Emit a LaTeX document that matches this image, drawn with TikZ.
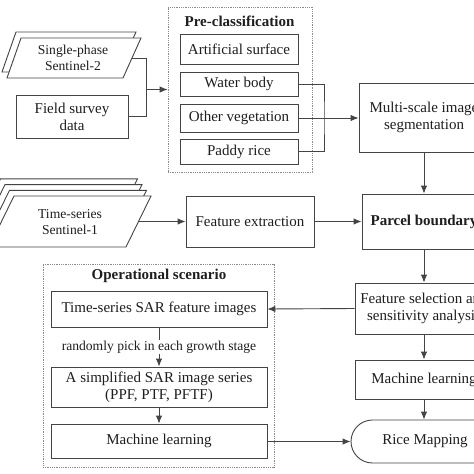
\documentclass[tikz,border=0pt]{standalone}
\usepackage{fontspec}
\setmainfont{Liberation Serif}
\usetikzlibrary{arrows.meta}
\definecolor{linec}{HTML}{444444}
\definecolor{textc}{HTML}{1E1E1E}
\definecolor{framec}{HTML}{8A8A8A}
\begin{document}
\begin{tikzpicture}[x=1pt,y=-1pt,
  txt/.style={font=\fontsize{15}{17}\selectfont, text=textc, align=center, inner sep=0pt},
  ptxt/.style={font=\fontsize{13.6}{16.5}\selectfont, text=textc, align=center, inner sep=0pt},
  boxn/.style={txt, draw=linec, line width=0.9pt, fill=white},
  frame/.style={draw=framec, line width=0.8pt, densely dotted, inner sep=0pt},
  para/.style={draw=linec, line width=0.9pt, fill=white},
  arr/.style={draw=linec, line width=0.9pt, -{Latex[length=8pt,width=6.5pt]}},
  con/.style={draw=linec, line width=0.9pt},
  small/.style={font=\fontsize{13.6}{16}\selectfont, text=textc, fill=white, inner sep=1pt}]
\useasboundingbox (0,0) rectangle (474,474);
\clip (0,0) rectangle (474,474);

% Single-phase Sentinel-2 (stacked parallelograms)
\draw[para] (16,32) -- (136,32) -- (118,72) -- (2,72) -- cycle;
\draw[para] (21,38) -- (141,38) -- (123,78) -- (7,78) -- cycle;
\node[ptxt] (s2) at (73,58) {Single-phase\\Sentinel-2};
\coordinate (s2e) at (132,58);

% Field survey data
\node[boxn, minimum width=112, minimum height=43] (field) at (72,116.5) {Field survey\\data};

% Pre-classification frame
\node[frame, minimum width=144, minimum height=165] (pre) at (240,89.5) {};
\node[txt, font=\fontsize{15}{17}\selectfont\bfseries] (pretitle) at (239.5,21) {Pre-classification};
\node[boxn, minimum width=118, minimum height=30] (art) at (239,49) {Artificial surface};
\node[boxn, minimum width=118, minimum height=24] (water) at (239,84) {Water body};
\node[boxn, minimum width=118, minimum height=28] (veg) at (239,118) {Other vegetation};
\node[boxn, minimum width=118, minimum height=25] (paddy) at (239,151.5) {Paddy rice};

% Multi-scale segmentation
\node[boxn, minimum width=130, minimum height=69] (multi) at (424,117.5) {Multi-scale image\\segmentation};

% Time-series Sentinel-1 (stacked parallelograms)
\foreach \k in {3,2,1} {
  \draw[para, shift={(-4.5*\k,-5.7*\k)}] (14,196) -- (151,196) -- (126,247) -- (-11,247) -- cycle;
}
\draw[para] (14,196) -- (151,196) -- (126,247) -- (-11,247) -- cycle;
\node[ptxt] (s1) at (70,222) {Time-series\\Sentinel-1};
\coordinate (s1e) at (138.5,221.5);

% Feature extraction, parcel boundary
\node[boxn, minimum width=128, minimum height=51] (fe) at (250,221.5) {Feature extraction};
\node[boxn, minimum width=124, minimum height=55, font=\fontsize{15}{17}\selectfont\bfseries] (parcel) at (424,221.5) {Parcel boundary};

% Right column
\node[boxn, minimum width=138, minimum height=51] (fs) at (424,308.5) {Feature selection and\\sensitivity analysis};
\node[boxn, minimum width=138, minimum height=39] (ml) at (424,379.5) {Machine learning};
\node[boxn, minimum width=148, minimum height=43, rounded corners=21.5] (rice) at (425,441.5) {Rice Mapping};

% Operational scenario frame
\node[frame, minimum width=231, minimum height=203] (ops) at (158.5,365.5) {};
\node[txt, font=\fontsize{15}{17}\selectfont\bfseries] (opstitle) at (159,276) {Operational scenario};
\node[boxn, minimum width=216, minimum height=36] (sar) at (159,309) {Time-series SAR feature images};
\node[boxn, minimum width=216, minimum height=40] (simp) at (159,387) {A simplified SAR image series\\(PPF, PTF, PFTF)};
\node[boxn, minimum width=216, minimum height=34] (ml2) at (159,441) {Machine learning};

% Connectors
\coordinate (j1) at (146,89.5);
\draw[con] (s2e) -- (s2e -| j1) -- (field.east -| j1) -- (field.east);
\draw[arr] (j1) -- (pre.west |- j1);

\coordinate (j2) at (324,118);
\draw[con] (water.east) -| (j2) |- (paddy.east);
\draw[arr] (veg.east) -- (multi.west |- veg.east);

\draw[arr] (multi) -- (parcel);
\draw[arr] (s1e) -- (fe.west);
\draw[arr] (fe) -- (parcel);
\draw[arr] (parcel) -- (fs);
\draw[arr] (fs.west) -- (sar.east);
\draw[arr] (fs) -- (ml);
\draw[arr] (ml) -- (ml |- rice.north);

\draw[arr] (sar) -- node[small, pos=0.5] (pick) {randomly pick in each growth stage} (simp);
\draw[arr] (simp) -- (ml2);
\draw[arr] (rice.west -| ml2.east) -- (rice.west);
\end{tikzpicture}
\end{document}
